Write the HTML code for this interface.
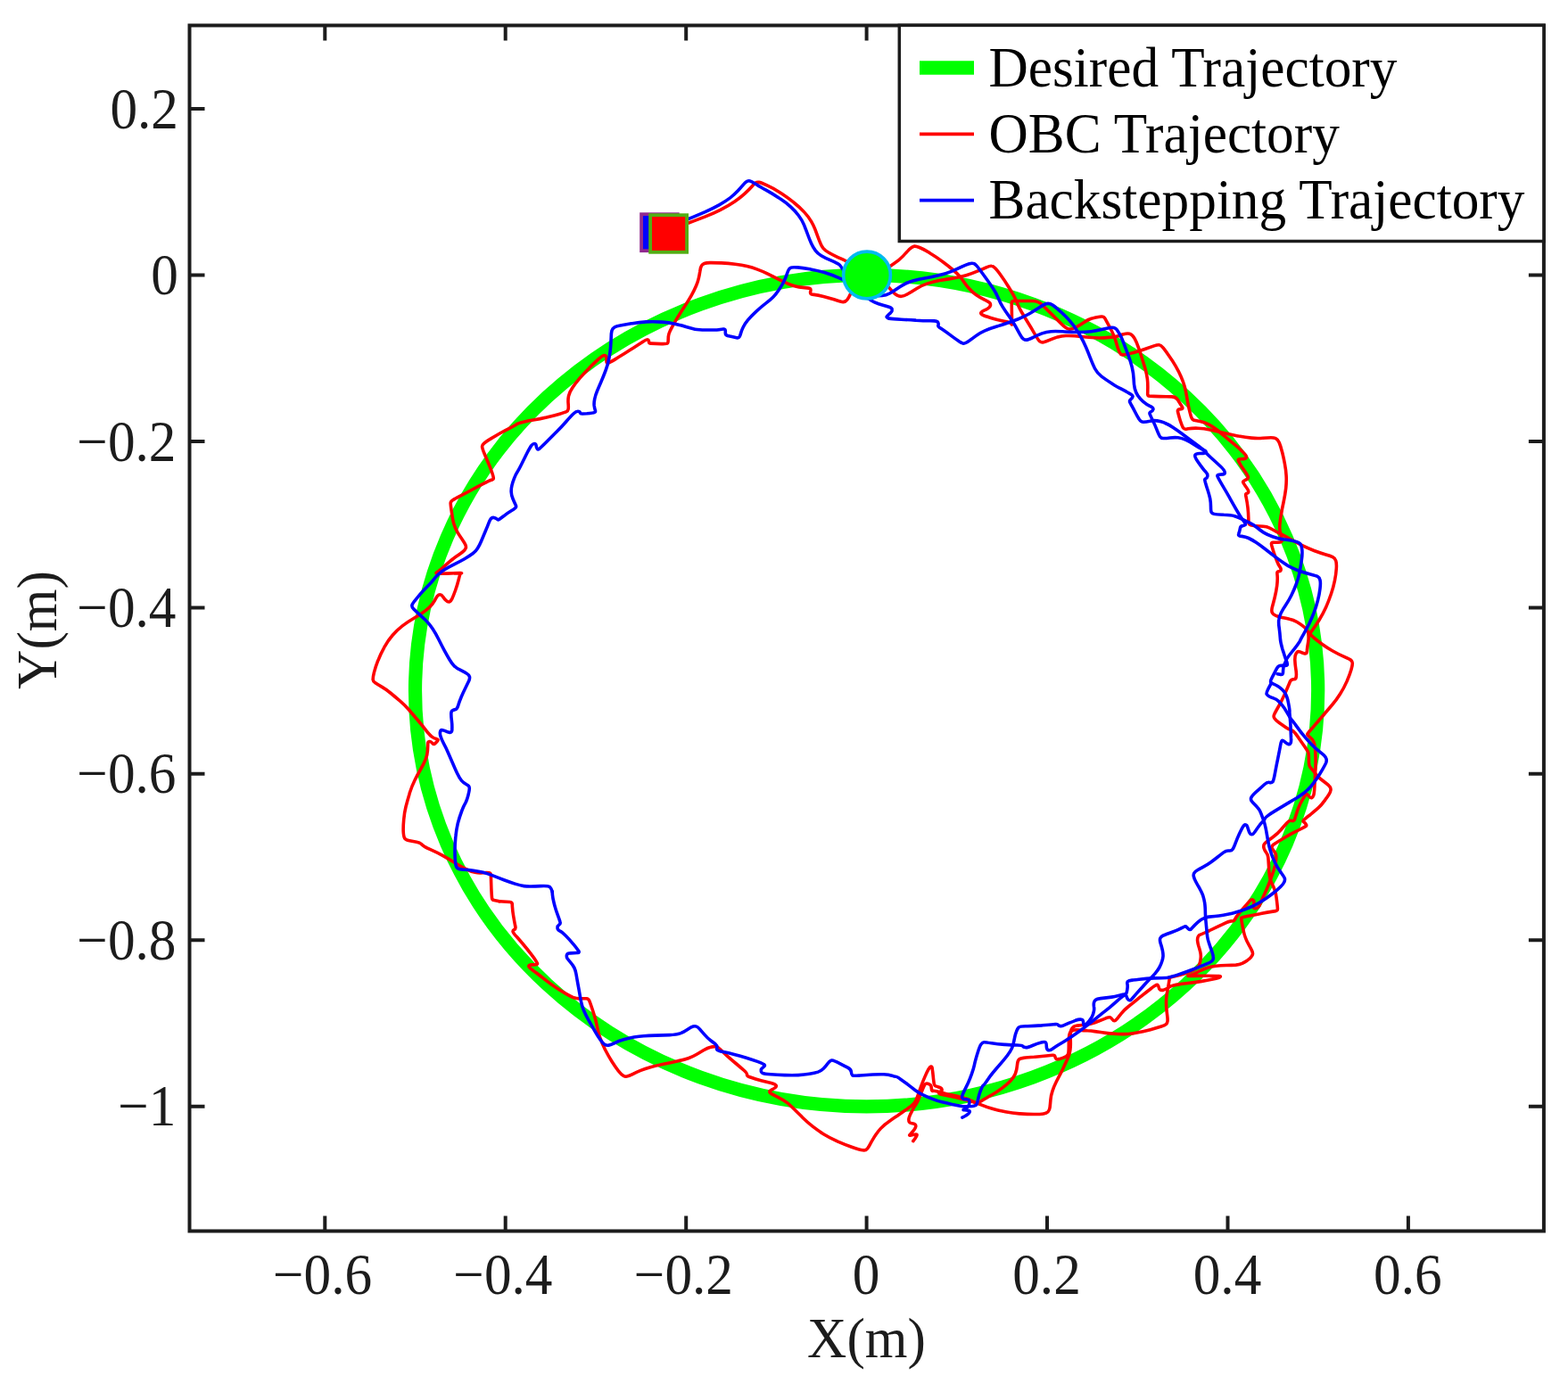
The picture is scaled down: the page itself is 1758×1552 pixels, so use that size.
<!DOCTYPE html>
<html lang="en">
<head>
<meta charset="utf-8">
<title>Trajectory tracking</title>
<style>
html,body{margin:0;padding:0;background:#fff;}
body{width:1758px;height:1552px;overflow:hidden;}
svg{display:block;}
text{font-family:"Liberation Serif","DejaVu Serif",serif;font-size:61.3px;fill:#1c1c1c;}
.lg{fill:#000;}
.ax{stroke:#1c1c1c;stroke-width:4;fill:none;}
.tk{stroke:#1c1c1c;stroke-width:4;fill:none;}
</style>
</head>
<body>
<svg width="1758" height="1552" viewBox="0 0 1758 1552">
<rect x="0" y="0" width="1758" height="1552" fill="#fff"/>
<ellipse cx="971.6" cy="774.6" rx="506.1" ry="466.2" fill="none" stroke="#00ff00" stroke-width="15.2"/>
<path d="M772 250L777.7 247.9Q783.3 245.8 790.8 242.9L792.6 242.1Q800 239.2 807.2 235.6L809.5 234.4Q816.7 230.8 823.3 226.3L823.4 226.2Q830 221.7 835 217.1L835 217.1Q840 212.5 842.9 209.2L842.9 209.2Q845.8 205.8 847.1 205L847.1 205Q848.3 204.2 850.8 204.4L850.8 204.4Q853.3 204.7 860 207.8L860 207.8Q866.7 210.8 873.4 215.2L876.6 217.3Q883.3 221.7 889.5 226.7L890.5 227.5Q896.7 232.5 901.7 237.9L901.7 237.9Q906.7 243.3 909.6 248.3L909.6 248.3Q912.5 253.3 914.6 259.2L914.6 259.2Q916.7 265 918.8 270.4L918.8 270.4Q920.8 275.8 922.9 278.3L922.9 278.3Q925 280.8 929.2 283.3L929.2 283.3Q933.3 285.8 940 288.8L940 288.8Q946.7 291.7 950 293.3L953.3 295" fill="none" stroke="#ff0000" stroke-width="3.6" stroke-linejoin="round" stroke-linecap="round"/>
<path d="M953.3 330L951.7 333.3Q950 336.7 947.9 337.9L947.9 337.9Q945.8 339.2 942.9 338.3L942.9 338.3Q940 337.5 935 335.8L935 335.8Q930 334.2 923.3 332.5L923.3 332.5Q916.7 330.8 912.5 330.4L910.7 330.2Q908.3 330 908.6 327.6L908.9 325.7Q909.2 323.3 906.8 323.1L904.6 322.9Q900 322.5 895.8 321.9L895.8 321.9Q891.7 321.3 887.5 319.8L887.5 319.8Q883.3 318.3 879.2 316.2L879.2 316.2Q875 314.2 870.8 312.1L870.8 312.1Q866.7 310 860.8 307.1L860.8 307.1Q855 304.2 849.2 302.1L849.2 302.1Q843.3 300 837.5 298.6L837.5 298.6Q831.7 297.2 824.2 296.2L824.2 296.2Q816.7 295.3 808.7 294.9L808 294.9Q800 294.5 795.8 294.6L795.8 294.6Q791.7 294.7 789.6 295.5L789.6 295.5Q787.5 296.3 786.4 298.2L786.4 298.2Q785.3 300 784.8 304.2L784.8 304.2Q784.2 308.3 783.3 312.1L783.3 312.1Q782.5 315.8 780.4 320.8L780.4 320.8Q778.3 325.8 775 331.7L775 331.7Q771.7 337.5 767.5 343.8L767.5 343.8Q763.3 350 759.6 356.2L759.6 356.2Q755.8 362.5 753.3 367.1L753.3 367.1Q750.8 371.7 750 374.2L750 374.2Q749.2 376.7 749.2 380.4L749.2 380.4Q749.2 384.2 748.3 385L748.3 385Q747.5 385.8 741.5 385.6L729.9 385.1Q727.5 385 727.5 383.2L727.5 383.2Q727.5 381.3 726.2 380.9L726.2 380.9Q725 380.5 720.8 383.2L720.8 383.2Q716.7 385.8 710 390.2L706.7 392.3Q700 396.7 693.1 400.8L690.2 402.6Q683.3 406.7 681.7 407.1L681.7 407.1Q680 407.5 680 405.1L680 403.8Q680 400 679.2 399.2L679.2 399.2Q678.3 398.3 676.7 398.8L676.7 398.8Q675 399.2 670.8 402.9L670.8 402.9Q666.7 406.7 661 412.3L660.7 412.7Q655 418.3 650 424.2L650 424.2Q645 430 641.7 435L641.7 435Q638.3 440 637.5 444.2L637.5 444.2Q636.7 448.3 637.1 452.5L637.1 452.5Q637.5 456.7 637.1 458.8L637.1 458.8Q636.7 460.8 635 461.7L635 461.7Q633.3 462.5 627.5 464.2L627.5 464.2Q621.7 465.8 613.9 467.8L612.8 468.1Q605 470 599.2 470.8L599.2 470.8Q593.3 471.7 586.7 473.3L586.7 473.3Q580 475 579.2 475.8L579.2 475.8Q578.3 476.7 572.5 479.6L572.5 479.6Q566.7 482.5 560.8 485.8L560.8 485.8Q555 489.2 550 492.1L550 492.1Q545 495 542.7 497.1L542.7 497.1Q540.3 499.2 540.6 501.2L540.6 501.2Q540.8 503.3 542.9 508.3L542.9 508.3Q545 513.3 547.5 519.2L547.5 519.2Q550 525 551.7 530L551.7 530Q553.3 535 553.3 536.2L553.3 536.2Q553.3 537.5 551.1 538.3L550.8 538.3Q548.3 539.2 542.5 542.1L542.5 542.1Q536.7 545 530 548.8L530 548.8Q523.3 552.5 517.5 555.4L517.5 555.4Q511.7 558.3 508.3 560.4L508 560.6Q505 562.5 505.2 564.6L505.2 564.6Q505.3 566.7 506 571.7L506 571.7Q506.7 576.7 507.5 581.7L507.5 581.7Q508.3 586.7 510.4 591.7L510.4 591.7Q512.5 596.7 515.4 600.8L515.4 600.8Q518.3 605 520.7 608.8L520.7 608.8Q523 612.5 522.3 614.6L522.3 614.6Q521.7 616.7 518.3 619.2L518.3 619.2Q515 621.7 510.8 624.6L510.8 624.6Q506.7 627.5 502.5 631.2L502.5 631.2Q498.3 635 495 637.9L495 637.9Q491.7 640.8 489.8 641.9L489.8 641.9Q488 643 490.4 643.1L490.7 643.2Q493.3 643.3 501.3 643.1L515.9 642.6Q518.3 642.5 517.1 642.9L517.1 642.9Q515.8 643.3 514.8 647.6L514.2 650Q512.5 656.7 510.4 662.5L510.4 662.5Q508.3 668.3 506.7 671.7L506.5 671.9Q505 675 503.3 675L503.3 675Q501.7 675 500 673.3L500 673.3Q498.3 671.7 496.7 669.2L496.7 669.2Q495 666.7 493.3 666.7L493.3 666.7Q491.7 666.7 490.4 668.3L490.4 668.3Q489.2 670 487.1 673.8L487.1 673.8Q485 677.5 481.7 680.8L481.7 680.8Q478.3 684.2 473.3 687.5L473.3 687.5Q468.3 690.8 462.5 694.2L462.5 694.2Q456.7 697.5 450.8 702.1L450.8 702.1Q445 706.7 440 712.5L440 712.5Q435 718.3 431.1 725.3L430.6 726.3Q426.7 733.3 423.8 740.8L423.7 740.9Q420.8 748.3 419.4 754.2L419.4 754.2Q418 760 418.2 762.1L418.2 762.1Q418.3 764.2 420.8 765.8L420.8 765.8Q423.3 767.5 428.3 770.4L428.3 770.4Q433.3 773.3 438.3 777.5L438.3 777.5Q443.3 781.7 448.3 785.8L448.3 785.8Q453.3 790 458.3 795.8L458.3 795.8Q463.3 801.7 468.3 807.5L468.3 807.5Q473.3 813.3 477.5 818.8L477.5 818.8Q481.7 824.2 484.2 826.1L484.2 826.1Q486.7 828 489.3 828.6L489.7 828.7Q492 829.2 490.4 831L490.2 831.2Q488.3 833.3 487.1 834.2L487.1 834.2Q485.8 835 484.6 833.2L484.6 833.2Q483.3 831.3 481.5 831.5L481.5 831.5Q479.7 831.7 479.7 834.1L479.7 834.2Q479.7 836.7 479.4 841.7L479.4 841.7Q479.2 846.7 477.1 851.7L477.1 851.7Q475 856.7 471.7 862.5L471.7 862.5Q468.3 868.3 465 875L465 875Q461.7 881.7 459.3 889.3L459 890.4Q456.7 898 455 904.8L455 904.8Q453.3 911.7 452.7 919.2L452.7 919.2Q452 926.7 452.2 932.5L452.2 932.5Q452.5 938.3 453.8 940.2L453.8 940.2Q455 942 459.2 942.8L459.2 942.8Q463.3 943.7 467.1 944.3L467.1 944.3Q470.8 945 472.1 946.2L472.1 946.2Q473.3 947.5 475.8 949.2L475.8 949.2Q478.3 950.8 484.2 953.3L484.2 953.3Q490 955.8 496.7 959.6L496.7 959.6Q503.3 963.3 510 967.5L510 967.5Q516.7 971.7 522.5 974.6L522.5 974.6Q528.3 977.5 532.5 978.3L532.5 978.3Q536.7 979.2 541.7 978.8L541.7 978.8Q546.7 978.3 548.5 978.8L548.5 978.8Q550.3 979.2 550.4 981.6L550.6 988.7Q550.8 996.7 551.2 1002.9L551.5 1006.8Q551.7 1009.2 554 1009.6L560 1010.8" fill="none" stroke="#ff0000" stroke-width="3.6" stroke-linejoin="round" stroke-linecap="round"/>
<path d="M993.3 301.7L1001.7 296.1Q1008.3 291.7 1012.5 287.1L1012.5 287.1Q1016.7 282.5 1019.6 279.6L1019.6 279.6Q1022.5 276.7 1024.6 276.2L1024.6 276.2Q1026.7 275.8 1030.8 277.5L1030.8 277.5Q1035 279.2 1041.8 283.3L1043.2 284.2Q1050 288.3 1056.4 293.1L1056.9 293.5Q1063.3 298.3 1068.3 302.5L1068.3 302.5Q1073.3 306.7 1075.8 309.6L1075.8 309.6Q1078.3 312.5 1080.8 316.2L1080.8 316.2Q1083.3 320 1086.7 323.8L1086.7 323.8Q1090 327.5 1094.2 330.4L1094.2 330.4Q1098.3 333.3 1103.3 335.8L1103.3 335.8Q1108.3 338.3 1109.6 339.6L1109.6 339.6Q1110.8 340.8 1110.4 342.5L1110.4 342.5Q1110 344.2 1108.3 345.4L1108.3 345.4Q1106.7 346.7 1103.8 347.9L1103.8 347.9Q1100.8 349.2 1100 350.4L1100 350.4Q1099.2 351.7 1101.2 352.9L1101.2 352.9Q1103.3 354.2 1110.8 356.4L1110.8 356.4Q1118.3 358.7 1125.8 360.2L1128.9 360.8Q1133.3 361.7 1134 363.3L1134 363.3Q1134.7 365 1134.6 362.6L1134.2 339.9Q1134.2 337.5 1136.6 337.5L1157.8 337.5Q1164.2 337.5 1168.7 342L1169.6 342.9Q1175 348.3 1180 353.3L1180 353.3Q1185 358.3 1190 363.3L1190 363.3Q1195 368.3 1198.3 369L1198.3 369Q1201.7 369.7 1205.8 367.3L1205.8 367.3Q1210 365 1215 361.7L1215 361.7Q1220 358.3 1224.2 357.1L1224.2 357.1Q1228.3 355.8 1232.9 355.2L1234.8 355Q1237.5 354.7 1238.9 357.1L1240.4 359.8Q1243.3 365 1246.7 371.7L1246.7 371.7Q1250 378.3 1251.5 384.2L1251.5 384.2Q1253 390 1254.8 394.2L1255.7 396.1Q1256.7 398.3 1259 397.9L1261.7 397.5Q1266.7 396.7 1272.5 395L1272.5 395Q1278.3 393.3 1284.2 391.2L1284.2 391.2Q1290 389.2 1293.8 387.9L1293.8 387.9Q1297.5 386.7 1299.6 386.8L1299.6 386.8Q1301.7 387 1304.2 390.2L1304.2 390.2Q1306.7 393.3 1310.8 399.2L1310.8 399.2Q1315 405 1318.3 410.8L1318.3 410.8Q1321.7 416.7 1324.2 422.5L1324.2 422.5Q1326.7 428.3 1328.1 433.3L1328.1 433.3Q1329.5 438.3 1330.6 445L1330.6 445Q1331.7 451.7 1332.9 457.5L1332.9 457.5Q1334.2 463.3 1335.4 467.1L1335.4 467.1Q1336.7 470.8 1338.8 471.2L1338.8 471.2Q1340.8 471.7 1345.4 472.5L1345.4 472.5Q1350 473.3 1355 475.8L1355 475.8Q1360 478.3 1365 482.5L1365 482.5Q1370 486.7 1375 490.8L1375 490.8Q1380 495 1385 499.2L1385 499.2Q1390 503.3 1393.3 506.7L1393.3 506.7Q1396.7 510 1397.3 511.7L1397.3 511.7Q1398 513.3 1396.5 514L1396.5 514Q1395 514.7 1391.2 514.8L1389.9 514.9Q1387.5 515 1388.6 517.1L1389.2 518.3Q1390.8 521.7 1393.8 525.8L1393.8 525.8Q1396.7 530 1398.3 532.5L1398.4 532.7Q1400 535 1399.2 536.2L1399.2 536.2Q1398.3 537.5 1395.7 538.6L1395.2 538.8Q1393 539.7 1394 541.5L1394 541.5Q1395 543.3 1397.5 546.7L1397.5 546.7Q1400 550 1399.8 551.5L1399.8 551.5Q1399.7 553 1398 553.3L1398 553.3Q1396.3 553.7 1396.8 556L1397.3 558.5Q1398.3 563.3 1399 569.2L1399 569.2Q1399.7 575 1399.8 581.5L1399.9 585.6Q1400 588 1402.3 588.7L1403.3 589Q1406.7 590 1411.7 590L1411.7 590Q1416.7 590 1420 590.8L1420 590.8Q1423.3 591.7 1427.5 594.2L1427.5 594.2Q1431.7 596.7 1436.7 599.2L1436.7 599.2Q1441.7 601.7 1447.5 605L1447.5 605Q1453.3 608.3 1460 611.7L1460 611.7Q1466.7 615 1473.3 617.5L1473.3 617.5Q1480 620 1485.8 621.7L1485.8 621.7Q1491.7 623.3 1494.2 624.6L1494.2 624.6Q1496.7 625.8 1497.7 628.8L1497.7 628.8Q1498.7 631.7 1498.3 637.5L1498.3 637.5Q1498 643.3 1496.5 650.8L1496.5 650.8Q1495 658.3 1492.5 665.8L1492.5 665.8Q1490 673.3 1486.8 680.6L1486.6 681Q1483.3 688.3 1479.2 695L1479.2 695Q1475 701.7 1471.7 706.2L1469.7 708.9Q1468.3 710.8 1470.1 712.4L1472.5 714.6Q1476.7 718.3 1482.5 722.5L1482.5 722.5Q1488.3 726.7 1494.2 730L1494.2 730Q1500 733.3 1505.8 735.8L1505.8 735.8Q1511.7 738.3 1513.8 739.6L1513.8 739.6Q1515.8 740.8 1516.2 742.9L1516.2 742.9Q1516.7 745 1515 750.8L1515 750.8Q1513.3 756.7 1510.1 764L1509.9 764.4Q1506.7 771.7 1502.5 778.3L1502.5 778.3Q1498.3 785 1493.3 790.8L1493.3 790.8Q1488.3 796.7 1483.3 802.5L1483.3 802.5Q1478.3 808.3 1474.2 813.2L1474.2 813.2Q1470 818 1468.2 820L1468.2 820Q1466.4 822 1466 822.8L1466 822.8Q1465.6 823.6 1466.4 824.7L1466.4 824.7Q1467.3 825.7 1469.4 827.4L1469.4 827.4Q1471.4 829 1472.7 831.5L1472.7 831.5Q1473.9 834 1474.3 837.8L1474.3 837.8Q1474.8 841.5 1475 849L1475 849Q1475.2 856.4 1474.8 864.4L1474.7 865.1Q1474.3 873.1 1473.9 881L1473.9 881.7Q1473.5 889.7 1472.8 891.7L1472.8 891.7Q1472.1 893.8 1470.9 894.4L1470.9 894.4Q1469.8 895.1 1468.5 894L1468.5 894Q1467.3 893 1466 891.1L1466 891.1Q1464.8 889.3 1463.5 891.3L1463.1 892Q1461.5 894.7 1459.8 897.6L1459.8 897.6Q1458.1 900.5 1456.5 904.2L1456.5 904.2Q1454.8 907.9 1453.2 913.4L1453.2 913.4Q1451.5 918.9 1451.4 919.2L1451.4 919.2Q1451.3 919.5 1450.4 920.1L1450.4 920.1Q1449.6 920.8 1447.5 920.3L1447.5 920.3Q1445.4 919.9 1442.8 922.9L1442.5 923.3Q1439.6 926.6 1435.9 930.7L1435.9 930.7Q1432.2 934.9 1428.4 937.8L1428.4 937.8Q1424.7 940.7 1421.4 943L1421.4 943Q1418 945.3 1417.2 947.1L1417.2 947.1Q1416.4 949 1417.2 951.5L1417.2 951.5Q1418 954 1419.7 956.1L1419.7 956.1Q1421.4 958.1 1421.8 961.5L1421.8 961.5Q1422.2 964.8 1422.4 969.8L1422.4 969.8Q1422.6 974.8 1423 978.9L1423 978.9Q1423.4 983.1 1424.1 985.5L1424.1 985.5Q1424.7 988 1426.3 991.4L1426.3 991.4Q1428 994.7 1429.3 998.4L1429.3 998.4Q1430.5 1002.2 1431.1 1006.7L1431.1 1006.7Q1431.7 1011.3 1432.2 1016.3L1432.4 1018.9Q1432.6 1021.3 1430.2 1021.6L1427 1022.1Q1421.4 1022.9 1413.5 1024.5L1412.6 1024.7Q1404.8 1026.2 1398.1 1027.6L1393.8 1028.4Q1391.5 1028.9 1391.6 1029.9L1391.6 1029.9Q1391.7 1030.8 1392.5 1035.4L1392.5 1035.4Q1393.3 1040 1394.2 1044L1394.2 1044Q1395 1048 1396.5 1051.8L1396.5 1051.8Q1398 1055.7 1400.1 1059.4L1400.1 1059.4Q1402.2 1063.2 1403.4 1065.6L1403.4 1065.6Q1404.7 1068.1 1404.5 1069.8L1404.5 1069.8Q1404.3 1071.5 1402.8 1073.1L1402.8 1073.1Q1401.4 1074.8 1398.5 1076.9L1398.5 1076.9Q1395.5 1078.9 1392.6 1080.4L1392.6 1080.4Q1389.7 1081.8 1385.6 1082.1L1385.6 1082.1Q1381.4 1082.3 1374.8 1082.5L1374.8 1082.5Q1368.1 1082.7 1363.2 1083.3L1363.2 1083.3Q1358.2 1083.9 1354 1085.2L1354 1085.2Q1349.9 1086.4 1346.5 1088.1L1346.5 1088.1Q1343.2 1089.7 1340.3 1091.4L1340.3 1091.4Q1337.4 1093.1 1334.1 1093.8L1333.1 1094Q1330.8 1094.6 1333.2 1094.5L1337 1094.4Q1343.2 1094.3 1351.2 1094.3L1351.8 1094.3Q1359.8 1094.3 1364.4 1094.5L1366.6 1094.6Q1369 1094.7 1368.1 1095.5L1368.1 1095.5Q1367.3 1096.4 1363.6 1097.2L1363.6 1097.2Q1359.8 1098 1353.6 1099.3L1353.6 1099.3Q1347.4 1100.5 1341.1 1101.4L1341.1 1101.4Q1334.9 1102.2 1329.9 1102.8L1329.9 1102.8Q1325 1103.4 1321.6 1103.9L1321.6 1103.9Q1318.3 1104.3 1315.8 1104.9L1315.8 1104.9Q1313.3 1105.5 1311.7 1106.3L1311.7 1106.3Q1310 1107.2 1309 1108.1L1309 1108.1Q1307.9 1109 1305 1109.9L1305 1109.9Q1302.1 1110.7 1300.9 1110.1L1300.9 1110.1Q1299.6 1109.5 1299.2 1107.2L1299.2 1107.2Q1298.8 1104.9 1298 1104.5L1298 1104.5Q1297.1 1104.1 1295.1 1105.3L1295.1 1105.3Q1293 1106.5 1289.3 1109.5L1289.3 1109.5Q1285.5 1112.4 1281.4 1115.7L1281.4 1115.7Q1277.2 1119 1273.1 1122.3L1273.1 1122.3Q1268.9 1125.6 1264.8 1129L1264.8 1129Q1260.6 1132.3 1257.3 1136.4L1257.3 1136.4Q1254 1140.6 1252.3 1142.7L1252.3 1142.7Q1250.6 1144.8 1249.4 1144.8L1249.4 1144.8Q1248.1 1144.8 1246.9 1142.9L1246.9 1142.9Q1245.6 1141 1244.4 1140.8L1244.4 1140.8Q1243.2 1140.6 1239.8 1141.8L1239.8 1141.8Q1236.5 1143.1 1231.9 1145L1231.9 1145Q1227.4 1146.8 1223.2 1147.9L1223.2 1147.9Q1219.1 1148.9 1214.9 1149.3L1214.9 1149.3Q1210.8 1149.7 1207.9 1150.1L1207.9 1150.1Q1205 1150.6 1203.7 1151.4L1203.7 1151.4Q1202.5 1152.2 1201.4 1153.9L1201.4 1153.9Q1200.4 1155.5 1200.2 1158.5L1200.2 1158.5Q1200 1161.4 1200.2 1165.5L1200.2 1165.5Q1200.4 1169.7 1200.2 1173.8L1200.2 1173.8Q1200 1178 1199.1 1181.3L1199.1 1181.3Q1198.3 1184.6 1196.6 1187.9L1196.6 1187.9Q1195 1191.3 1193.3 1195.1L1193.3 1195.1Q1191.7 1198.9 1189.2 1203.6L1189.2 1203.6Q1186.7 1208.3 1184.2 1213.3L1184.2 1213.3Q1181.7 1218.3 1180 1223.3L1180 1223.3Q1178.3 1228.3 1177.9 1233.3L1177.9 1233.3Q1177.5 1238.3 1177.1 1241.7L1177.1 1241.7Q1176.7 1245 1175 1246.7L1175 1246.7Q1173.3 1248.3 1170 1248.9L1170 1248.9Q1166.7 1249.5 1159.2 1249.5L1159.2 1249.5Q1151.7 1249.5 1143.7 1248.9L1143 1248.9Q1135 1248.3 1127.2 1246.8L1126.2 1246.6Q1118.3 1245 1112.5 1243.3L1112.5 1243.3Q1106.7 1241.7 1099.9 1238.9L1099.9 1238.9Q1093.2 1236.1 1088.9 1234.9L1088.9 1234.9Q1084.6 1233.8 1078.9 1232.4L1078.9 1232.4Q1073.3 1231 1067.6 1229.8L1067.6 1229.8Q1061.9 1228.7 1059 1228.1L1059 1228.1Q1056.2 1227.5 1054.2 1227L1054.2 1227Q1052.2 1226.4 1053.1 1225.3L1053.1 1225.3Q1053.9 1224.1 1055.1 1223.8L1055.1 1223.8Q1056.2 1223.6 1056.1 1222.1L1056.1 1222.1Q1055.9 1220.7 1054.9 1220.1L1054.9 1220.1Q1053.9 1219.6 1052.2 1219L1052.2 1219Q1050.5 1218.4 1048.9 1217.9L1048.9 1217.9Q1047.4 1217.3 1047 1213.9L1047 1213.6Q1046.5 1209.9 1046.1 1205.6L1046.1 1205.6Q1045.7 1201.4 1045.2 1198.5L1045.2 1198.1Q1044.8 1195.7 1043.7 1196L1043.7 1196Q1042.5 1196.3 1040.8 1199.4L1040.8 1199.4Q1039.1 1202.5 1036.9 1207.6L1036.9 1207.6Q1034.6 1212.8 1032.6 1218.4L1032.6 1218.4Q1030.6 1224.1 1028.6 1229.8L1028.6 1229.8Q1026.6 1235.5 1024.3 1237.8L1024.3 1237.8Q1022.1 1240.1 1019.2 1242L1019.2 1242Q1016.4 1244 1013.5 1246L1013.5 1246Q1010.7 1248 1007.8 1250L1007.8 1250Q1005 1252 998.3 1256.4L998.3 1256.4Q991.7 1260.8 987.5 1265.4L987.5 1265.4Q983.3 1270 980 1275.4L980 1275.4Q976.7 1280.8 974.6 1284.8L974.6 1284.8Q972.5 1288.7 970.8 1289.5L970.8 1289.5Q969.2 1290.3 965.4 1289.5L965.4 1289.5Q961.7 1288.7 954.2 1286L954.2 1286Q946.7 1283.3 939.4 1280.1L937.3 1279.1Q930 1275.8 923.3 1271.7L923.3 1271.7Q916.7 1267.5 910.8 1262.9L910.8 1262.9Q905 1258.3 899.3 1252.7L899 1252.3Q893.3 1246.7 888.3 1241.7L888.3 1241.7Q883.3 1236.7 878.3 1233.8L878.3 1233.8Q873.3 1230.8 868.3 1228.3L868.3 1228.3Q863.3 1225.8 862.9 1224.6L862.9 1224.6Q862.5 1223.3 864.6 1222.3L865 1222.1Q867.5 1220.8 869.2 1219.6L869.2 1219.6Q870.8 1218.3 870 1217.1L870 1217.1Q869.2 1215.8 864.6 1214.6L864.6 1214.6Q860 1213.3 853.3 1211.7L853.3 1211.7Q846.7 1210 842.1 1208.3L839.8 1207.5Q837.5 1206.7 837.5 1205L837.5 1205Q837.5 1203.3 833.8 1200L833.8 1200Q830 1196.7 825 1192.5L825 1192.5Q820 1188.3 815 1183.8L815 1183.8Q810 1179.2 807.5 1176.7L807.5 1176.7Q805 1174.2 802.5 1173.8L802.5 1173.8Q800 1173.3 796.7 1174.2L796.7 1174.2Q793.3 1175 789.2 1177.5L789.2 1177.5Q785 1180 780.8 1182.5L780.8 1182.5Q776.7 1185 771.7 1186.7L771.7 1186.7Q766.7 1188.3 759.2 1190L759.2 1190Q751.7 1191.7 743.8 1193.2L742.8 1193.4Q735 1195 729.2 1196.7L729.2 1196.7Q723.3 1198.3 718.3 1200.4L718.3 1200.4Q713.3 1202.5 709.2 1204.6L709.2 1204.6Q705 1206.7 702.9 1207.1L702.9 1207.1Q700.8 1207.5 698.8 1206.2L698.8 1206.2Q696.7 1205 693.3 1200.8L693.3 1200.8Q690 1196.7 685.8 1190L685.8 1190Q681.7 1183.3 678.3 1176.7L678.3 1176.7Q675 1170 672.9 1164.2L672.9 1164.2Q670.8 1158.3 669.6 1151.7L669.6 1151.7Q668.3 1145 666.2 1138.3L666.2 1138.3Q664.2 1131.7 662.1 1125.8L661 1122.8Q660 1120 657.5 1119.8L657.5 1119.8Q655 1119.7 650.8 1119.8L650.8 1119.8Q646.7 1120 643.3 1118.8L643.3 1118.8Q640 1117.5 635 1114.6L635 1114.6Q630 1111.7 624.2 1107.9L624.2 1107.9Q618.3 1104.2 612.5 1099.6L612.5 1099.6Q606.7 1095 601.7 1091.2L601.7 1091.2Q596.7 1087.5 594.6 1085.8L594.4 1085.7Q592.5 1084.2 592.9 1083.1L592.9 1083.1Q593.3 1082 596.2 1081.9L600.9 1081.7Q603.3 1081.7 602.1 1079.6L601.7 1078.8Q600 1075.8 595.8 1070.4L595.8 1070.4Q591.7 1065 587.5 1060L587.5 1060Q583.3 1055 579.6 1050.8L579.6 1050.8Q575.8 1046.7 575.2 1045L575.2 1045Q574.7 1043.3 576.5 1042.5L576.5 1042.5Q578.3 1041.7 577.9 1039.3L577.5 1037.5Q576.7 1033.3 575.7 1027.5L575.7 1027.5Q574.7 1021.7 574.4 1016.7L574.3 1014.1Q574.2 1011.7 571.8 1011.5L560 1010.8" fill="none" stroke="#ff0000" stroke-width="3.6" stroke-linejoin="round" stroke-linecap="round"/>
<path d="M993.3 318.3L995.4 320.8Q997.5 323.3 1000.4 326.7L1000.4 326.7Q1003.3 330 1005.8 331.2L1005.8 331.2Q1008.3 332.5 1010.8 332.3L1010.8 332.3Q1013.3 332.2 1017.5 329.8L1017.5 329.8Q1021.7 327.5 1027.5 323.8L1027.5 323.8Q1033.3 320 1040 317.9L1040 317.9Q1046.7 315.8 1053.3 314.6L1053.3 314.6Q1060 313.3 1067.9 312.1L1068.8 312Q1076.7 310.8 1083.3 308.8L1083.3 308.8Q1090 306.7 1095.8 304.2L1095.8 304.2Q1101.7 301.7 1105.8 299.8L1105.8 299.8Q1110 298 1111.7 298.2L1111.7 298.2Q1113.3 298.3 1115.8 300.8L1115.8 300.8Q1118.3 303.3 1122.5 309.2L1122.5 309.2Q1126.7 315 1130.8 321.7L1130.8 321.7Q1135 328.3 1137.5 333.3L1137.5 333.3Q1140 338.3 1141.2 341.7L1141.2 341.7Q1142.5 345 1145.4 350L1145.4 350Q1148.3 355 1152.5 361.7L1152.5 361.7Q1156.7 368.3 1160.4 375L1160.4 375Q1164.2 381.7 1165.8 382.9L1165.8 382.9Q1167.5 384.2 1170 383.8L1170 383.8Q1172.5 383.3 1177.1 381.2L1177.1 381.2Q1181.7 379.2 1185.8 377.9L1185.8 377.9Q1190 376.7 1195 376.5L1195 376.5Q1200 376.3 1205 376.7L1205 376.7Q1210 377 1215 377.7L1215 377.7Q1220 378.3 1227.5 378.8L1227.5 378.8Q1235 379.2 1243 378.4L1245 378.2Q1253 377.5 1255.7 376.1L1255.7 376.1Q1258.3 374.7 1262.1 374.2L1262.1 374.2Q1265.8 373.7 1267.9 374.8L1267.9 374.8Q1270 375.8 1272.1 379.6L1272.1 379.6Q1274.2 383.3 1276.2 389.2L1276.2 389.2Q1278.3 395 1280.4 401.7L1280.4 401.7Q1282.5 408.3 1284.2 414.2L1284.2 414.2Q1285.8 420 1286.4 425L1286.4 425Q1287 430 1286.8 437.1L1286.7 441.8Q1286.7 444.2 1289.1 444.3L1293.3 444.4Q1300 444.7 1308 444.8L1313.8 444.9Q1318.3 445 1320.4 448.3L1320.4 448.3Q1322.5 451.7 1324.6 455L1325.4 456.3Q1326.7 458.3 1324.3 458.6L1322.4 458.9Q1320 459.2 1320.5 461.5L1320.8 462.9Q1321.7 466.7 1323.3 471.7L1323.3 471.7Q1325 476.7 1326.2 479.2L1326.4 479.5Q1327.5 481.7 1329.9 481.2L1332.1 480.8Q1336.7 480 1343.3 480.2L1343.3 480.2Q1350 480.5 1356.7 481.9L1356.7 481.9Q1363.3 483.3 1371.1 485.3L1372.2 485.6Q1380 487.5 1387.9 488.9L1388.8 489.1Q1396.7 490.5 1403.3 491.1L1403.3 491.1Q1410 491.7 1415.8 491.2L1415.8 491.2Q1421.7 490.8 1425 490.8L1425 490.8Q1428.3 490.8 1430.4 491.7L1430.4 491.7Q1432.5 492.5 1434.2 496.2L1434.2 496.2Q1435.8 500 1437.5 506.7L1437.5 506.7Q1439.2 513.3 1440.4 520L1440.4 520Q1441.7 526.7 1442.1 533.3L1442.1 533.3Q1442.5 540 1441.7 547.5L1441.7 547.5Q1440.8 555 1439.2 562.5L1439.2 562.5Q1437.5 570 1436.3 577.9L1435.9 580.1Q1434.7 588 1434.7 591.5L1434.7 591.5Q1434.7 595 1435.7 598.3L1435.7 598.3Q1436.7 601.7 1437.1 604.6L1437.2 605.1Q1437.5 607.5 1435.4 607.9L1435.4 607.9Q1433.3 608.3 1429.2 608.3L1427.4 608.3Q1425 608.3 1425.6 610.7L1425.8 611.7Q1426.7 615 1428.3 620L1428.3 620Q1430 625 1431.7 629.2L1431.7 629.2Q1433.3 633.3 1434.8 635.4L1434.8 635.4Q1436.3 637.5 1436.1 639.2L1436.1 639.2Q1435.8 640.8 1433.8 640.8L1433.8 640.8Q1431.7 640.8 1431.9 643.2L1432.1 645.4Q1432.5 650 1431.7 656.7L1431.7 656.7Q1430.8 663.3 1429.2 670L1429.2 670Q1427.5 676.7 1426.4 680.8L1426.4 680.8Q1425.3 685 1426.4 687.1L1426.4 687.1Q1427.5 689.2 1430.4 690.4L1430.4 690.4Q1433.3 691.7 1437.5 692.5L1437.5 692.5Q1441.7 693.3 1445.8 694.2L1445.8 694.2Q1450 695 1454.2 697.5L1454.2 697.5Q1458.3 700 1462.5 703.3L1462.5 703.3Q1466.7 706.7 1467.1 710.8L1467.1 710.8Q1467.5 715 1466.7 720L1466.7 720Q1465.8 725 1465.4 729.2L1465.2 730.9Q1465 733.3 1462.9 732.9L1462.9 732.9Q1460.8 732.5 1457.9 731.2L1457.2 730.9Q1455 730 1453.7 732L1453.3 732.5Q1451.7 735 1451.8 740L1451.8 740Q1452 745 1452.8 750L1452.8 750Q1453.7 755 1453.3 758.3L1453.2 759.3Q1453 761.7 1450.6 761.7L1450.2 761.7Q1447.5 761.7 1446.4 764.3L1445.4 766.7Q1443.3 771.7 1440.1 779L1439.9 779.4Q1436.7 786.7 1433.3 792.5L1433.3 792.5Q1430 798.3 1428.8 800.8L1428.8 800.8Q1427.5 803.3 1428.8 805.4L1428.8 805.4Q1430 807.5 1434.2 810.4L1434.2 810.4Q1438.3 813.3 1441.7 815.7L1441.7 815.7Q1445 818 1447.4 818.5L1447.4 818.5Q1449.8 819.1 1452.3 822.4L1452.3 822.4Q1454.8 825.7 1457.7 829.9L1457.7 829.9Q1460.6 834 1463.1 837.8L1463.1 837.8Q1465.6 841.5 1466.5 843.2L1466.5 843.2Q1467.4 844.8 1467.4 851.9L1467.4 852.3Q1467.4 858.9 1469 860.6L1469 860.6Q1470.6 862.3 1474.3 866.8L1474.3 866.8Q1478.1 871.4 1480.6 873.5L1480.6 873.5Q1483.1 875.5 1486.4 878L1486.4 878Q1489.7 880.5 1490.9 882.2L1490.9 882.2Q1492.2 883.9 1492 885.9L1492 885.9Q1491.8 888 1489.9 890.9L1489.9 890.9Q1488 893.8 1484.7 898.4L1484.7 898.4Q1481.4 903 1478.1 905.9L1478.1 905.9Q1474.8 908.8 1471.4 911.7L1471.4 911.7Q1468.1 914.6 1467.6 914.8L1467.6 914.8Q1467 915 1463.7 917.9L1462.2 919.2Q1460.4 920.8 1461.6 921.6L1461.6 921.6Q1462.9 922.4 1464.1 924.1L1464.1 924.1Q1465.4 925.7 1464.1 926.6L1464.1 926.6Q1462.9 927.4 1458.7 929.5L1458.7 929.5Q1454.6 931.6 1450.4 933.6L1450.4 933.6Q1446.3 935.7 1442.1 938.2L1442.1 938.2Q1438 940.7 1433.8 943.2L1433.8 943.2Q1429.7 945.7 1427.6 947.3L1427.4 947.5Q1425.5 949 1426.3 951.1L1426.3 951.1Q1427.2 953.2 1428.8 955.2L1428.8 955.2Q1430.5 957.3 1430.7 959.8L1430.7 959.8Q1430.9 962.3 1430.3 966.4L1430.3 966.4Q1429.7 970.6 1428.4 974.8L1428.4 974.8Q1427.2 978.9 1425.5 983.5L1425.5 983.5Q1423.9 988 1422.2 992.2L1422.2 992.2Q1420.5 996.3 1418.9 1000.1L1418.9 1000.1Q1417.2 1003.8 1415.5 1007.6L1415.5 1007.6Q1413.9 1011.3 1412.6 1014.2L1412.6 1014.2Q1411.4 1017.1 1410.1 1017.9L1410.1 1017.9Q1408.9 1018.8 1407.2 1018.6L1407.2 1018.6Q1405.6 1018.4 1405.2 1017.3L1405.2 1017.3Q1404.8 1016.3 1405.6 1013.8L1405.6 1013.8Q1406.4 1011.3 1405.6 1010L1405.6 1010Q1404.8 1008.8 1403.5 1008.8L1403.5 1008.8Q1402.3 1008.8 1400.2 1011.3L1400.2 1011.3Q1398.1 1013.8 1395.6 1016.7L1395.6 1016.7Q1393.1 1019.6 1390.6 1022.5L1390.6 1022.5Q1388.1 1025.4 1386.9 1027.2L1386.9 1027.2Q1385.6 1028.9 1384.5 1031.1L1384.4 1031.2Q1383.3 1033.3 1381.2 1032.9L1381.2 1032.9Q1379.2 1032.5 1372.2 1035.8L1370.6 1036.6Q1363.3 1040 1356.1 1043.5L1353.9 1044.5Q1346.7 1048 1345.4 1048.3L1345.4 1048.3Q1344.1 1048.6 1343.2 1050.5L1343.2 1050.5Q1342.4 1052.4 1342.6 1054.9L1342.6 1054.9Q1342.8 1057.3 1343.8 1060.7L1343.8 1060.7Q1344.9 1064 1345.7 1067.3L1345.7 1067.3Q1346.5 1070.6 1346.3 1073.5L1346.3 1073.5Q1346.1 1076.4 1345.5 1078.9L1345.5 1078.9Q1344.9 1081.4 1344.1 1083.1L1344.1 1083.1Q1343.2 1084.8 1339.1 1087.2L1339.1 1087.2Q1334.9 1089.7 1330.8 1091L1330.8 1091Q1326.6 1092.2 1322.5 1093.5L1322.5 1093.5Q1318.3 1094.7 1314.2 1095.5L1312.4 1095.9Q1310 1096.4 1310.6 1096.5L1310.6 1096.5Q1311.3 1096.6 1311 1099L1310.8 1099.9Q1310.4 1103.2 1309.6 1107.4L1309.6 1107.4Q1308.8 1111.5 1308.1 1115.7L1308.1 1115.7Q1307.5 1119.8 1307.5 1124L1307.5 1124Q1307.5 1128.1 1307.9 1132.3L1307.9 1132.3Q1308.4 1136.4 1308.8 1139.8L1308.8 1139.8Q1309.2 1143.1 1309 1145.2L1309 1145.2Q1308.8 1147.2 1307.5 1148.5L1307.5 1148.5Q1306.3 1149.7 1302.1 1151L1302.1 1151Q1298 1152.2 1293.8 1153.5L1293.8 1153.5Q1289.7 1154.7 1285.5 1155.8L1285.5 1155.8Q1281.4 1156.8 1277.2 1157.6L1277.2 1157.6Q1273.1 1158.5 1268.9 1159L1268.9 1159Q1264.8 1159.5 1260.6 1159.6L1260.6 1159.6Q1256.4 1159.7 1252.3 1159.5L1252.3 1159.5Q1248.1 1159.3 1244 1158.9L1244 1158.9Q1239.8 1158.5 1235.7 1157.8L1235.7 1157.8Q1231.5 1157.2 1227.4 1156.6L1227.4 1156.6Q1223.2 1156 1219.1 1155.8L1219.1 1155.8Q1214.9 1155.5 1210.8 1155.1L1210.8 1155.1Q1206.6 1154.7 1204.5 1155.1L1204.5 1155.1Q1202.5 1155.5 1200.8 1156.8L1200.8 1156.8Q1199.1 1158 1198.7 1161.8L1198.7 1161.8Q1198.3 1165.5 1198.3 1171.7L1198.3 1171.7Q1198.3 1178 1197.9 1180.7L1197.9 1180.7Q1197.5 1183.3 1195.4 1184.6L1195.4 1184.6Q1193.3 1185.8 1189.2 1187.1L1188.6 1187.3Q1185 1188.3 1184.2 1187.5L1184.2 1187.5Q1183.3 1186.7 1182.9 1184.8L1182.9 1184.8Q1182.5 1183 1180.1 1183.3L1175.4 1183.8Q1168.3 1184.7 1160.4 1185.2L1159.6 1185.3Q1151.7 1185.8 1147.5 1186.4L1147.5 1186.4Q1143.3 1187 1142.1 1188.5L1142.1 1188.5Q1140.8 1190 1140.4 1195L1140.4 1195Q1140 1200 1138.3 1204.2L1138.3 1204.2Q1136.7 1208.3 1132.5 1212.5L1132.5 1212.5Q1128.3 1216.7 1123.3 1220.4L1123.3 1220.4Q1118.3 1224.2 1112.5 1227.5L1112.5 1227.5Q1106.7 1230.8 1104.2 1232.3L1104.2 1232.3Q1101.7 1233.8 1098.9 1235.5L1098.9 1235.5Q1096 1237.2 1093.2 1236.1L1093.2 1236.1Q1090.3 1234.9 1087.5 1233.7L1087.5 1233.7Q1084.6 1232.4 1078.9 1230.8L1078.9 1230.8Q1073.3 1229.2 1067.6 1228.1L1067.6 1228.1Q1061.9 1227 1057.6 1225.8L1057.6 1225.8Q1053.4 1224.7 1050.2 1223.8L1050.2 1223.8Q1047.1 1223 1046 1223.4L1046 1223.4Q1044.8 1223.8 1044.5 1221.7L1044.5 1221.7Q1044.2 1219.6 1044 1218.2L1044 1218.2Q1043.7 1216.7 1042 1215.9L1042 1215.9Q1040.3 1215 1038.8 1215L1038.8 1215Q1037.4 1215 1036.6 1216.7L1036.6 1216.7Q1035.7 1218.4 1034 1222.7L1034 1222.7Q1032.3 1227 1030.6 1231.2L1030.6 1231.2Q1028.9 1235.5 1026.9 1238.4L1026.9 1238.4Q1024.9 1241.2 1023.5 1244L1023.5 1244Q1022.1 1246.9 1020.6 1249.7L1020.6 1249.7Q1019.2 1252.6 1018.9 1254.8L1018.9 1254.8Q1018.7 1257.1 1019.5 1258.3L1019.5 1258.3Q1020.4 1259.4 1022.6 1259.7L1022.6 1259.7Q1024.9 1260 1025.9 1260.8L1025.9 1260.8Q1026.9 1261.7 1026.8 1263.1L1026.8 1263.1Q1026.6 1264.5 1025.2 1266.5L1025.2 1266.5Q1023.8 1268.5 1022.1 1270.2L1022.1 1270.2Q1020.4 1271.9 1019.8 1272.8L1019.8 1272.8Q1019.2 1273.6 1021.5 1273L1021.5 1273Q1023.8 1272.5 1026 1272.2L1026 1272.2Q1028.3 1271.9 1028 1273L1028 1273Q1027.8 1274.2 1026.3 1276.2L1026.3 1276.2Q1024.9 1278.3 1024.3 1278.9L1023.8 1279.6" fill="none" stroke="#ff0000" stroke-width="3.6" stroke-linejoin="round" stroke-linecap="round"/>
<path d="M766.7 247.5L775.9 243.8Q783.3 240.8 790.6 237.6L792.7 236.6Q800 233.3 806.7 229.6L806.7 229.6Q813.3 225.8 818.3 222.1L818.3 222.1Q823.3 218.3 827.5 213.8L827.5 213.8Q831.7 209.2 833.8 206.7L833.8 206.7Q835.8 204.2 837.5 203.3L837.5 203.3Q839.2 202.5 840.8 202.9L840.8 202.9Q842.5 203.3 846.2 205.8L846.2 205.8Q850 208.3 857 212.2L859.7 213.6Q866.7 217.5 873.3 221.9L875 223.1Q881.7 227.5 886.7 232.1L886.7 232.1Q891.7 236.7 895.4 241.7L895.4 241.7Q899.2 246.7 901.2 251.7L901.2 251.7Q903.3 256.7 905.4 262.5L905.4 262.5Q907.5 268.3 909.6 272.9L909.6 272.9Q911.7 277.5 914.2 280.8L914.2 280.8Q916.7 284.2 920.8 286.7L920.8 286.7Q925 289.2 930.8 291.7L930.8 291.7Q936.7 294.2 939.6 295.8L939.6 295.8Q942.5 297.5 943.3 299.6L943.3 299.6Q944.2 301.7 947.1 304.2L950 306.7" fill="none" stroke="#0000ff" stroke-width="3.6" stroke-linejoin="round" stroke-linecap="round"/>
<path d="M948.3 315L940.6 311.6Q933.3 308.3 925.7 306L924.3 305.6Q916.7 303.3 908.8 301.9L907.9 301.8Q900 300.3 894.2 299.9L894.2 299.9Q888.3 299.5 886.7 300.2L886.7 300.2Q885 300.8 884.2 302.5L884.2 302.5Q883.3 304.2 882.1 307.9L882.1 307.9Q880.8 311.7 878.8 315.8L878.8 315.8Q876.7 320 873.3 325L873.3 325Q870 330 866.7 333.3L866.7 333.3Q863.3 336.7 858.3 340.4L858.3 340.4Q853.3 344.2 847.5 349.6L847.5 349.6Q841.7 355 838.3 359.2L838.3 359.2Q835 363.3 833.3 366.7L833.3 366.7Q831.7 370 830.8 372.9L830.8 372.9Q830 375.8 829.2 377.5L829.2 377.5Q828.3 379.2 826 378.8L825.8 378.8Q823.3 378.3 818.3 377.1L815.7 376.4Q813.3 375.8 813.3 373.4L813.3 371.6Q813.3 369.2 811.7 369L811.7 369Q810 368.8 807.5 369.4L807.5 369.4Q805 370 797 370L791.3 370Q783.3 370 779.2 369.2L779.2 369.2Q775 368.3 769.2 366.5L769.2 366.5Q763.3 364.7 756.7 363.2L756.7 363.2Q750 361.7 742 361.1L741.3 361.1Q733.3 360.5 725.3 360.9L724.7 360.9Q716.7 361.3 708.8 362.7L707.9 362.8Q700 364.2 695.4 365L695.4 365Q690.8 365.8 688.8 367.1L688.8 367.1Q686.7 368.3 686 370.8L686 370.8Q685.3 373.3 685.2 378.3L685.2 378.3Q685 383.3 684.6 389.2L684.6 389.2Q684.2 395 682.9 401.7L682.9 401.7Q681.7 408.3 679.2 415L679.2 415Q676.7 421.7 674.2 427.5L674.2 427.5Q671.7 433.3 669.6 438.3L669.6 438.3Q667.5 443.3 666.7 447.5L666.7 447.5Q665.8 451.7 666.2 455L666.2 455Q666.7 458.3 667.3 460L667.3 460Q668 461.7 666.5 462.5L666.5 462.5Q665 463.3 657.9 463.8L653.2 464Q650.8 464.2 650.4 462.8L650.4 462.8Q650 461.3 647.9 461.3L647.9 461.3Q645.8 461.3 642.9 464L642.9 464Q640 466.7 635 472.5L635 472.5Q630 478.3 624.3 484L624 484.3Q618.3 490 613.3 495L613.3 495Q608.3 500 605.8 502.3L605.1 503Q603.3 504.7 602.3 503.2L602.3 503.2Q601.3 501.7 601.1 499.6L601.1 499.6Q600.8 497.5 599.2 497.5L599.2 497.5Q597.5 497.5 595.8 499.6L595.8 499.6Q594.2 501.7 591.2 507.5L591.2 507.5Q588.3 513.3 585 520L585 520Q581.7 526.7 580 529.2L580 529.2Q578.3 531.7 576.7 535.8L576.7 535.8Q575 540 574 544.2L574 544.2Q573 548.3 573.2 551.7L573.2 551.7Q573.3 555 575 559.2L575 559.2Q576.7 563.3 577.9 565.8L578.1 566.2Q579.2 568.3 577.9 569.6L577.9 569.6Q576.7 570.8 572.5 573.3L572.5 573.3Q568.3 575.8 564.6 578.8L564.6 578.8Q560.8 581.7 559.6 582.5L559.6 582.5Q558.3 583.3 557.1 582.1L557.1 582.1Q555.8 580.8 553.8 580.4L553.8 580.4Q551.7 580 550.4 581.7L550.4 581.7Q549.2 583.3 547.9 586.7L547.9 586.7Q546.7 590 544.2 595.8L544.2 595.8Q541.7 601.7 539.6 606.7L539.6 606.7Q537.5 611.7 535.4 615L535.4 615Q533.3 618.3 530 620.8L530 620.8Q526.7 623.3 520.8 626.7L520.8 626.7Q515 630 509.2 632.9L509.2 632.9Q503.3 635.8 499.2 638.3L499.2 638.3Q495 640.8 491.7 643.8L491.7 643.8Q488.3 646.7 486.7 649.2L486.7 649.2Q485 651.7 480 656.7L480 656.7Q475 661.7 470.8 666.7L470.8 666.7Q466.7 671.7 464.3 674.6L464.3 674.6Q462 677.5 461.8 679.2L461.8 679.2Q461.7 680.8 463.8 682.9L463.8 682.9Q465.8 685 469.6 688.3L469.6 688.3Q473.3 691.7 477.5 695.8L477.5 695.8Q481.7 700 485 705L485 705Q488.3 710 491.7 716.7L491.7 716.7Q495 723.3 498.3 729.6L498.3 729.6Q501.7 735.8 504.2 740L504.2 740Q506.7 744.2 509.2 746.7L509.2 746.7Q511.7 749.2 515.8 751.2L515.8 751.2Q520 753.3 522.9 755L522.9 755Q525.8 756.7 526.4 758.8L526.4 758.8Q527 760.8 525.6 763.8L525.6 763.8Q524.2 766.7 521.7 771.7L521.7 771.7Q519.2 776.7 517.1 781.7L517.1 781.7Q515 786.7 513.8 790.8L513.7 791.1Q512.5 795 510.8 795.4L510.8 795.4Q509.2 795.8 507.5 796.7L507.5 796.7Q505.8 797.5 505.8 800.4L505.8 800.4Q505.8 803.3 506.4 808.3L506.4 808.3Q507 813.3 506.8 817.1L506.8 818.4Q506.7 820.8 505 821.2L505 821.2Q503.3 821.7 500.8 820.4L500.8 820.4Q498.3 819.2 496.2 818.8L496.2 818.8Q494.2 818.3 493.6 820.4L493.6 820.4Q493 822.5 494 825.8L494 825.8Q495 829.2 497.5 833.8L497.5 833.8Q500 838.3 502.5 844.2L502.5 844.2Q505 850 507.5 855.8L507.5 855.8Q510 861.7 512.5 867.1L512.5 867.1Q515 872.5 517.5 875.4L517.5 875.4Q520 878.3 522.9 879.6L522.9 879.6Q525.8 880.8 526.2 882.9L526.2 882.9Q526.7 885 525 891.5L525 891.5Q523.3 898 521.7 900.7L521.7 900.7Q520 903.3 517.5 910L517.5 910Q515 916.7 513.3 923.3L513.3 923.3Q511.7 930 510.9 938L510.8 938.7Q510 946.7 510 954.7L510 955.3Q510 963.3 510.7 967.9L510.7 967.9Q511.3 972.5 513.2 973.8L513.2 973.8Q515 975 520 975.2L520 975.2Q525 975.3 530.8 976.2L530.8 976.2Q536.7 977 541.7 978.3L541.7 978.3Q546.7 979.7 552.5 981.9L552.5 981.9Q558.3 984.2 565 986.7L565 986.7Q571.7 989.2 577.5 991.1L577.5 991.1Q583.3 993 587.5 993.6L587.5 993.6Q591.7 994.2 595.8 994L595.8 994Q600 993.8 605.8 993.6L605.8 993.6Q611.7 993.3 614.2 993.8L614.2 993.8Q616.7 994.2 617.7 996.2L617.7 996.2Q618.7 998.3 618.9 999.2L619.2 1000" fill="none" stroke="#0000ff" stroke-width="3.6" stroke-linejoin="round" stroke-linecap="round"/>
<path d="M971.7 333.3L973.8 335Q975.8 336.7 980.4 338.8L980.4 338.8Q985 340.8 990 342.2L990 342.2Q995 343.7 997.5 344.5L997.5 344.5Q1000 345.3 1000.2 347.2L1000.2 347.2Q1000.5 349.2 998.2 351.2L998.2 351.2Q995.8 353.3 994.6 354.6L994.6 354.6Q993.3 355.8 995.4 356.7L995.4 356.7Q997.5 357.5 1005.5 357.9L1010.3 358.2Q1018.3 358.7 1026.3 359.1L1027 359.2Q1035 359.7 1042.9 359.8L1047.2 359.9Q1050.8 360 1051.7 361.7L1051.7 361.7Q1052.5 363.3 1051.9 364.6L1051.9 364.6Q1051.3 365.8 1053.3 367.2L1055.7 368.8Q1060 371.7 1065 375.4L1065 375.4Q1070 379.2 1074.2 382.1L1074.2 382.1Q1078.3 385 1080 385.2L1080 385.2Q1081.7 385.3 1085.8 382.7L1085.8 382.7Q1090 380 1094.2 376.7L1094.2 376.7Q1098.3 373.3 1104.2 370.8L1104.2 370.8Q1110 368.3 1117.7 366L1119 365.6Q1126.7 363.3 1130.8 361.8L1130.8 361.8Q1135 360.3 1141.7 357.7L1141.7 357.7Q1148.3 355 1154.2 351.7L1154.2 351.7Q1160 348.3 1165 345L1165 345Q1170 341.7 1172.5 340.8L1172.5 340.8Q1175 340 1177.5 340.8L1177.5 340.8Q1180 341.7 1185 345.8L1185 345.8Q1190 350 1195 355L1195 355Q1200 360 1204.2 365.8L1204.2 365.8Q1208.3 371.7 1211.7 377.5L1211.7 377.5Q1215 383.3 1217.5 389.2L1217.5 389.2Q1220 395 1222.5 401.7L1222.5 401.7Q1225 408.3 1227.5 413.3L1227.5 413.3Q1230 418.3 1235 422.1L1235 422.1Q1240 425.8 1246.5 430L1246.5 430Q1253 434.2 1255.7 435.4L1255.7 435.4Q1258.3 436.7 1264.2 440L1266.6 441.4Q1270 443.3 1270 444.6L1270 444.6Q1270 445.8 1267.9 447.8L1267.6 448Q1265.8 449.7 1267.1 451.7L1267.9 453.2Q1270 456.7 1272.5 461.7L1272.5 461.7Q1275 466.7 1277.1 470L1277.2 470.1Q1279.2 473.3 1282.1 473.2L1282.1 473.2Q1285 473 1289.2 472.2L1289.2 472.2Q1293.3 471.3 1297.5 471.9L1297.5 471.9Q1301.7 472.5 1305.8 474.2L1305.8 474.2Q1310 475.8 1315 479.2L1315 479.2Q1320 482.5 1325 486.2L1325 486.2Q1330 490 1335 493.8L1335 493.8Q1340 497.5 1344.2 500.4L1344.2 500.4Q1348.3 503.3 1350.8 506.2L1350.8 506.2Q1353.3 509.2 1358.3 513.8L1358.3 513.8Q1363.3 518.3 1367.9 522.5L1367.9 522.5Q1372.5 526.7 1373.1 529.2L1373.1 529.3Q1373.7 531.7 1371.3 531.9L1366.6 532.3Q1364.2 532.5 1365.2 534.6L1365.8 535.8Q1367.5 539.2 1371.2 545.4L1371.2 545.4Q1375 551.7 1378.9 558.7L1379.4 559.7Q1383.3 566.7 1386.7 572.5L1386.7 572.5Q1390 578.3 1392.5 581.7L1392.5 581.7Q1395 585 1395.8 586.5L1395.8 586.5Q1396.7 588 1396.2 588.6L1396.2 588.6Q1395.8 589.2 1393.3 589.6L1393.2 589.6Q1390.8 590 1390.4 592.4L1390.4 592.5Q1390 595 1389 597.9L1388.8 598.6Q1388 600.8 1390.4 601.2L1392.3 601.4Q1396.7 602 1400 603.5L1400 603.5Q1403.3 605 1408.3 608.3L1408.3 608.3Q1413.3 611.7 1419.2 616.2L1419.2 616.2Q1425 620.8 1430 624.6L1430 624.6Q1435 628.3 1439.2 631.2L1439.2 631.2Q1443.3 634.2 1448.3 636.7L1448.3 636.7Q1453.3 639.2 1458.3 640.8L1458.3 640.8Q1463.3 642.5 1469.2 643.9L1469.2 643.9Q1475 645.3 1477.1 646.4L1477.1 646.4Q1479.2 647.5 1480 650.4L1480 650.4Q1480.8 653.3 1480 660L1480 660Q1479.2 666.7 1477.5 673.3L1477.5 673.3Q1475.8 680 1473.3 686.7L1473.3 686.7Q1470.8 693.3 1467.9 699.2L1467.9 699.2Q1465 705 1461.7 710.8L1461.7 710.8Q1458.3 716.7 1457.7 718.3L1457.7 718.3Q1457.1 720 1452.2 726.3L1447.3 732.5Q1442.3 738.8 1441.8 740.8L1441.8 740.8Q1441.2 742.8 1440.1 744.7L1440.1 744.7Q1438.9 746.7 1438.6 751.7L1438.5 754.3Q1438.4 756.7 1436 756.4L1432.1 755.8" fill="none" stroke="#0000ff" stroke-width="3.6" stroke-linejoin="round" stroke-linecap="round"/>
<path d="M985 331.7L989.2 331.5Q993.3 331.3 997.5 329L997.5 329Q1001.7 326.7 1005.8 323.8L1005.8 323.8Q1010 320.8 1014.2 318.6L1014.2 318.6Q1018.3 316.3 1024.2 314.8L1024.2 314.8Q1030 313.3 1036.7 312.1L1036.7 312.1Q1043.3 310.8 1051.1 309L1052.2 308.8Q1060 307 1066.7 304.3L1066.7 304.3Q1073.3 301.7 1078.3 299.2L1078.3 299.2Q1083.3 296.7 1086.7 295.7L1086.7 295.7Q1090 294.7 1092.1 295.7L1092.1 295.7Q1094.2 296.7 1097.9 301.7L1097.9 301.7Q1101.7 306.7 1105.8 312.5L1105.8 312.5Q1110 318.3 1113.3 323.3L1113.3 323.3Q1116.7 328.3 1119.2 334.2L1119.2 334.2Q1121.7 340 1124.2 344.2L1124.2 344.2Q1126.7 348.3 1130.8 353.8L1130.8 353.8Q1135 359.2 1138.3 365.4L1138.3 365.4Q1141.7 371.7 1143.8 375.4L1143.8 375.4Q1145.8 379.2 1147.5 380.2L1147.5 380.2Q1149.2 381.3 1151.2 381.1L1151.2 381.1Q1153.3 380.8 1158.3 378.3L1158.3 378.3Q1163.3 375.8 1168.3 373.9L1168.3 373.9Q1173.3 372 1178.3 371.7L1178.3 371.7Q1183.3 371.3 1191.3 371.8L1193.7 372Q1201.7 372.5 1209.2 372.5L1209.2 372.5Q1216.7 372.5 1223.3 371.7L1223.3 371.7Q1230 370.8 1235 369.6L1235 369.6Q1240 368.3 1243.3 367.7L1243.3 367.7Q1246.7 367 1248.8 367.5L1248.8 367.5Q1250.8 368 1251.9 369.4L1251.9 369.4Q1253 370.8 1254.8 373.8L1254.8 373.8Q1256.7 376.7 1259.6 384.1L1259.6 384.2Q1262.5 391.7 1265 398.3L1265 398.3Q1267.5 405 1269.2 411.7L1269.2 411.7Q1270.8 418.3 1271.1 425L1271.1 425Q1271.3 431.7 1272.3 435.8L1272.3 435.8Q1273.3 440 1275.8 443.8L1275.8 443.8Q1278.3 447.5 1281.7 450.4L1281.7 450.4Q1285 453.3 1289.2 455.4L1291.2 456.4Q1293.3 457.5 1292.9 459.2L1292.9 459.2Q1292.5 460.8 1290.4 461.7L1290.4 461.7Q1288.3 462.5 1289.3 464.7L1289.6 465.4Q1290.8 468.3 1292.9 472.5L1292.9 472.5Q1295 476.7 1297.1 482.1L1297.1 482.1Q1299.2 487.5 1300.4 489.4L1300.4 489.4Q1301.7 491.3 1304.2 491.5L1304.2 491.5Q1306.7 491.7 1311.7 491L1311.7 491Q1316.7 490.3 1320.8 490.8L1320.8 490.8Q1325 491.3 1329.2 493.2L1329.2 493.2Q1333.3 495 1338.3 498.3L1338.3 498.3Q1343.3 501.7 1347.9 503.8L1350.3 504.8Q1352.5 505.8 1352.1 507.1L1352.1 507.1Q1351.7 508.3 1349.2 508.4L1345 508.5Q1340.8 508.7 1340 510.2L1340 510.2Q1339.2 511.7 1341.2 514.9L1341.2 515Q1343.3 518.3 1346.7 522.9L1346.7 522.9Q1350 527.5 1352.1 529.6L1352.1 529.6Q1354.2 531.7 1353.8 534L1353.8 534Q1353.3 536.3 1351.8 536.7L1351.8 536.7Q1350.3 537 1351 539.3L1351.4 541Q1352.5 545 1354.2 550L1354.2 550Q1355.8 555 1356.7 559.2L1356.7 559.2Q1357.5 563.3 1357.5 568.3L1357.5 568.3Q1357.5 573.3 1358.3 574.6L1358.3 574.6Q1359.2 575.8 1361.2 576.4L1361.2 576.4Q1363.3 577 1371.3 577.2L1372 577.3Q1380 577.5 1384.2 578.8L1384.2 578.8Q1388.3 580 1392.5 582.1L1392.5 582.1Q1396.7 584.2 1400.8 586.1L1400.8 586.1Q1405 588 1409.2 591.5L1409.2 591.5Q1413.3 595 1416.7 597.1L1416.7 597.1Q1420 599.2 1426.7 601.7L1426.7 601.7Q1433.3 604.2 1440 605L1440 605Q1446.7 605.8 1450.8 606.7L1450.8 606.7Q1455 607.5 1457.1 609.2L1457.1 609.2Q1459.2 610.8 1459.8 616.2L1459.8 616.2Q1460.3 621.7 1459.3 628.3L1459.3 628.3Q1458.3 635 1457.1 641.7L1457.1 641.7Q1455.8 648.3 1453.3 655L1453.3 655Q1450.8 661.7 1447.9 667.5L1447.9 667.5Q1445 673.3 1441.7 678.3L1441.7 678.3Q1438.3 683.3 1436.2 687.5L1436.2 687.5Q1434.2 691.7 1433.8 695L1433.8 695Q1433.3 698.3 1434.2 704.2L1434.2 704.2Q1435 710 1435.3 715L1435.3 715Q1435.5 720 1437.8 727.7L1438.9 731.1Q1441.2 738.8 1442.2 740.8L1442.2 740.8Q1443.2 742.8 1443.3 744.6L1443.3 744.6Q1443.5 746.5 1441.1 746.4L1436.7 746.3Q1433.2 746.3 1431.6 749.3L1426.4 759.4Q1424.1 763.8 1424.7 764.9L1424.7 764.9Q1425.3 766.1 1427.5 766.9L1427.5 766.9Q1429.8 767.8 1432.7 769.5L1432.7 769.5Q1435.5 771.2 1437.8 773.5L1437.8 773.5Q1440.1 775.7 1441.5 778.6L1441.5 778.6Q1442.9 781.4 1443.8 784.8L1443.8 784.8Q1444.6 788.3 1445.3 792.5L1445.3 792.5Q1446 796.8 1445.9 797.5L1445.9 797.5Q1445.7 798.3 1446.3 804.5L1446.3 804.5Q1446.9 810.8 1447.1 817L1447.1 817Q1447.3 823.2 1447.5 827.4L1447.5 827.4Q1447.8 831.5 1447.1 833.2L1447.1 833.2Q1446.5 834.9 1444.9 834.6L1444.9 834.6Q1443.2 834.4 1440.7 832.2L1440.1 831.6Q1438.2 829.9 1437.4 830.3L1437.4 830.3Q1436.5 830.7 1435.7 835.3L1435.7 835.3Q1434.9 839.8 1433.6 846.1L1433.6 846.1Q1432.4 852.3 1431.1 858.5L1431.1 858.5Q1429.9 864.8 1428.9 870.1L1428.9 870.1Q1427.8 875.5 1426.8 876.8L1426.8 876.8Q1425.7 878 1423.3 877.4L1423.3 877.4Q1420.8 876.8 1417.9 879.5L1417.9 879.5Q1415 882.2 1411.6 885.1L1411.6 885.1Q1408.3 888 1405.8 890.5L1405.8 890.5Q1403.3 893 1402.7 894.7L1402.7 894.7Q1402.1 896.3 1403.1 898L1403.1 898Q1404.2 899.6 1406.6 902.1L1406.6 902.1Q1409.1 904.6 1410.8 906.7L1410.8 906.7Q1412.5 908.8 1413.5 911.3L1413.5 911.3Q1414.5 913.8 1415.4 916.3L1415.4 916.3Q1416.2 918.9 1416.7 919.8L1416.7 919.8Q1417.2 920.8 1418.2 924.9L1418.2 924.9Q1419.3 929.1 1420.1 934.1L1420.1 934.1Q1420.9 939 1421.8 943.6L1421.8 943.6Q1422.6 948.2 1424.1 953.2L1424.1 953.2Q1425.5 958.1 1427.6 963.1L1427.6 963.1Q1429.7 968.1 1432.2 972.3L1432.2 972.3Q1434.7 976.4 1437.1 979.7L1437.1 979.7Q1439.6 983.1 1440.3 984.9L1440.3 984.9Q1440.9 986.8 1439.8 989.1L1439.8 989.1Q1438.8 991.4 1435.9 994.3L1435.9 994.3Q1433 997.2 1428.8 1000.5L1428.8 1000.5Q1424.7 1003.8 1420.5 1006.7L1420.5 1006.7Q1416.4 1009.6 1411.4 1012.5L1411.4 1012.5Q1406.4 1015.4 1401.4 1017.5L1401.4 1017.5Q1396.4 1019.6 1391.5 1021.3L1391.5 1021.3Q1386.5 1022.9 1381.5 1024.2L1381.5 1024.2Q1376.5 1025.4 1371.5 1026.2L1371.5 1026.2Q1366.5 1027.1 1362 1027.5L1362 1027.5Q1357.4 1027.9 1355.3 1028.1L1355.3 1028.1Q1353.3 1028.3 1350 1029.6L1350 1029.6Q1346.7 1030.8 1343.3 1033.8L1343.3 1033.8Q1340 1036.7 1337.1 1040L1335.7 1041.5Q1334.2 1043.3 1332.5 1041.7L1332.5 1041.7Q1330.8 1040 1330 1039.2L1330 1039.2Q1329.2 1038.3 1327.1 1039.5L1325.4 1040.4Q1321.7 1042.5 1314.2 1045.2L1314.2 1045.2Q1306.7 1048 1304.2 1049L1304.2 1049Q1301.7 1050 1300.8 1052.1L1300.8 1052.1Q1300 1054.2 1301.2 1057.9L1301.2 1057.9Q1302.5 1061.7 1303.4 1065.8L1303.4 1065.8Q1304.2 1070 1304 1072.5L1304 1072.5Q1303.8 1075 1302.7 1078.3L1302.7 1078.3Q1301.7 1081.6 1299.8 1085L1299.8 1085Q1298 1088.3 1295.1 1091.6L1295.1 1091.6Q1292.2 1094.9 1288.8 1098.2L1288.8 1098.2Q1285.5 1101.6 1281.8 1105.7L1281.8 1105.7Q1278 1109.9 1274.7 1113.6L1274.7 1113.6Q1271.4 1117.3 1269.7 1119.4L1269.7 1119.4Q1268.1 1121.5 1266.8 1121.7L1266.8 1121.7Q1265.6 1121.9 1264.5 1120.5L1264.5 1120.5Q1263.5 1119 1262.9 1116.9L1262.9 1116.9Q1262.3 1114.9 1260.3 1116.2L1259.4 1116.9Q1256.4 1119 1252.3 1122.7L1252.3 1122.7Q1248.1 1126.5 1244 1129.8L1244 1129.8Q1239.8 1133.1 1235.7 1136.4L1235.7 1136.4Q1231.5 1139.8 1227.4 1143.1L1227.4 1143.1Q1223.2 1146.4 1219.1 1149.7L1219.1 1149.7Q1214.9 1153.1 1210.8 1156L1210.8 1156Q1206.6 1158.9 1202.5 1161.8L1202.5 1161.8Q1198.3 1164.7 1194.2 1167.2L1194.2 1167.2Q1190 1169.7 1185.8 1172.3L1185.8 1172.3Q1181.7 1175 1179.2 1176.7L1179.2 1176.7Q1176.7 1178.3 1175 1177.5L1175 1177.5Q1173.3 1176.7 1173.3 1173.3L1173.3 1173.3Q1173.3 1170 1172.5 1169L1172.5 1169Q1171.7 1168 1168.4 1168.8L1167.5 1169Q1163.3 1170 1157.5 1172.5L1157.5 1172.5Q1151.7 1175 1149.6 1174.6L1149.6 1174.6Q1147.5 1174.2 1146.7 1173.1L1146.7 1173.1Q1145.8 1172 1140.6 1172L1140.4 1172Q1135 1172 1127 1171.4L1126.3 1171.4Q1118.3 1170.8 1111.7 1169.8L1111.7 1169.8Q1105 1168.7 1103.3 1168.7L1103.3 1168.7Q1101.7 1168.7 1100 1171L1100 1171Q1098.3 1173.3 1096 1181L1095.6 1182.3Q1093.3 1190 1092.4 1194.3L1092.4 1194.3Q1091.5 1198.5 1089.5 1204.2L1089.5 1204.2Q1087.5 1209.9 1085.5 1214.2L1085.5 1214.2Q1083.5 1218.4 1081.8 1221.9L1081.8 1221.9Q1080.1 1225.3 1079.2 1227.5L1079.2 1227.5Q1078.4 1229.8 1078.7 1231L1078.7 1231Q1078.9 1232.1 1080.4 1232.4L1080.4 1232.4Q1081.8 1232.7 1083.8 1232.7L1083.8 1232.7Q1085.8 1232.7 1086.3 1233.5L1086.3 1233.5Q1086.9 1234.4 1086.9 1236.4L1086.9 1236.4Q1086.9 1238.4 1085.8 1239.8L1085.8 1239.8Q1084.6 1241.2 1084.1 1242L1084.1 1242Q1083.5 1242.9 1081.2 1243.8L1081.2 1243.8Q1078.9 1244.6 1081.2 1244.6L1081.2 1244.6Q1083.5 1244.6 1085.5 1245.2L1085.5 1245.2Q1087.5 1245.7 1087.2 1246.9L1087.2 1246.9Q1086.9 1248 1085.2 1249.4L1085.2 1249.4Q1083.5 1250.9 1081.2 1252L1078.9 1253.1" fill="none" stroke="#0000ff" stroke-width="3.6" stroke-linejoin="round" stroke-linecap="round"/>
<path d="M1425.3 766.1L1422.2 771.9Q1419.6 776.9 1420.1 778.3L1420.1 778.3Q1420.7 779.7 1423 781L1423 781Q1425.3 782.3 1428.1 783.1L1428.1 783.1Q1431 784 1433.2 786.1L1433.2 786.1Q1435.5 788.3 1437.8 791.1L1437.8 791.1Q1440.1 793.9 1442 797.4L1442 797.4Q1444 800.8 1445.7 803.6L1445.7 803.6Q1447.5 806.5 1448.6 807.8L1448.6 807.8Q1449.8 809.1 1454 814.9L1454 814.9Q1458.1 820.7 1462.3 825.7L1462.3 825.7Q1466.4 830.7 1470.6 834.9L1470.6 834.9Q1474.8 839 1478.9 842.3L1478.9 842.3Q1483.1 845.6 1484.7 847.3L1484.7 847.3Q1486.4 849 1487 851L1487 851Q1487.6 853.1 1486.6 855.6L1486.6 855.6Q1485.5 858.1 1482.6 863.1L1482.6 863.1Q1479.7 868.1 1476.4 873.1L1476.4 873.1Q1473.1 878 1469.4 882.2L1469.4 882.2Q1465.6 886.3 1461.9 889.3L1461.9 889.3Q1458.1 892.2 1454 894.7L1454 894.7Q1449.8 897.1 1445.7 899.6L1445.7 899.6Q1441.5 902.1 1437.4 904.6L1437.4 904.6Q1433.2 907.1 1429.1 909.6L1429.1 909.6Q1424.9 912.1 1421.6 914.6L1421.6 914.6Q1418.3 917.1 1418.2 918.1L1418.2 918.1Q1418 919.1 1415.5 921.6L1415.5 921.6Q1413.1 924.1 1411 927L1411 927Q1408.9 929.9 1407.2 932.4L1407.2 932.4Q1405.6 934.9 1404.3 935.5L1404.3 935.5Q1403.1 936.1 1401.8 935.1L1401.8 935.1Q1400.6 934.1 1399.6 930.3L1399.6 930.3Q1398.5 926.6 1397.9 925.7L1397.9 925.7Q1397.3 924.9 1396 924.9L1396 924.9Q1394.8 924.9 1393.1 927.8L1393.1 927.8Q1391.5 930.7 1389.4 935.3L1389.4 935.3Q1387.3 939.9 1385.2 945.3L1385.2 945.3Q1383.2 950.7 1381.9 952.5L1381.9 952.5Q1380.7 954.4 1377.8 954L1377.8 954Q1374.9 953.6 1371.9 955.9L1371.9 955.9Q1369 958.1 1365.3 961L1365.3 961Q1361.6 964 1357.4 966.9L1357.4 966.9Q1353.3 969.8 1349.1 972.1L1349.1 972.1Q1345 974.3 1342.5 975.8L1342.5 975.8Q1340 977.2 1338.9 978.9L1338.9 978.9Q1337.9 980.6 1338.3 982.6L1338.3 982.6Q1338.7 984.7 1340.6 988.5L1340.6 988.5Q1342.5 992.2 1345 996.3L1345 996.3Q1347.4 1000.5 1348.7 1004.2L1348.7 1004.2Q1349.9 1008 1350.6 1012.1L1350.6 1012.1Q1351.2 1016.3 1351.3 1020.4L1351.3 1020.4Q1351.4 1024.6 1351.5 1026.7L1351.5 1026.7Q1351.6 1028.9 1351.8 1031.1L1351.8 1031.1Q1352 1033.3 1352.7 1040.7L1352.7 1040.7Q1353.3 1048 1353.7 1050.6L1353.7 1050.6Q1354 1053.2 1355.7 1058.2L1355.7 1058.2Q1357.3 1063.2 1358.6 1066.5L1358.6 1066.5Q1359.8 1069.8 1360.2 1072.3L1360.2 1072.3Q1360.7 1074.8 1359.8 1076.4L1359.8 1076.4Q1359 1078.1 1355.3 1079.8L1355.3 1079.8Q1351.5 1081.4 1347.4 1083.1L1347.4 1083.1Q1343.2 1084.8 1339.1 1086.4L1339.1 1086.4Q1334.9 1088.1 1330.8 1089.5L1330.8 1089.5Q1326.6 1091 1322.5 1092.4L1322.5 1092.4Q1318.3 1093.9 1314.2 1095.1L1314.2 1095.1Q1310 1096.4 1308.1 1096.5L1308.1 1096.5Q1306.3 1096.6 1302.1 1096.7L1302.1 1096.7Q1298 1096.7 1293.8 1096.9L1293.8 1096.9Q1289.7 1097 1285.5 1097.4L1285.5 1097.4Q1281.4 1097.8 1277.2 1098.2L1277.2 1098.2Q1273.1 1098.7 1269.3 1099.1L1269.3 1099.1Q1265.6 1099.5 1264.5 1100.5L1264.5 1100.5Q1263.5 1101.6 1263.9 1103.2L1263.9 1103.2Q1264.3 1104.9 1264.1 1107.4L1264.1 1107.4Q1263.9 1109.9 1263.3 1112.4L1263.3 1112.5Q1262.7 1114.9 1260.8 1115.1L1260.8 1115.1Q1258.9 1115.3 1256 1116.1L1256 1116.1Q1253.1 1116.9 1249.8 1117.5L1249.8 1117.5Q1246.5 1118.2 1242.3 1118.6L1242.3 1118.6Q1238.2 1119 1234 1119.6L1234 1119.6Q1229.9 1120.2 1228.4 1121.3L1228.4 1121.3Q1227 1122.3 1226.5 1124.4L1226.5 1124.4Q1226.1 1126.5 1226.5 1129L1226.5 1129Q1227 1131.5 1226.3 1134.4L1226.3 1134.4Q1225.7 1137.3 1224.5 1139.8L1224.5 1139.8Q1223.2 1142.3 1221.1 1144.8L1221.1 1144.8Q1219.1 1147.2 1217.4 1148.9L1217.4 1148.9Q1215.7 1150.6 1215.3 1150.1L1215.3 1150.1Q1214.9 1149.7 1214.7 1147.2L1214.7 1147.2Q1214.5 1144.8 1213.9 1143.9L1213.9 1143.9Q1213.3 1143.1 1211.2 1143.1L1211.2 1143.1Q1209.1 1143.1 1205.8 1144.3L1205.8 1144.3Q1202.5 1145.6 1198.7 1147.2L1198.7 1147.2Q1195 1148.9 1192.5 1149.9L1192.5 1149.9Q1190 1151 1188.3 1150.5L1188.3 1150.5Q1186.7 1150 1186.2 1149.2L1186.2 1149.2Q1185.8 1148.3 1183.2 1148.6L1181.2 1148.8Q1176.7 1149.2 1168.7 1149.8L1168 1149.9Q1160 1150.5 1152 1150.7L1149.9 1150.7Q1143.3 1150.8 1142.1 1152.1L1142.1 1152.1Q1140.8 1153.3 1139.6 1156.7L1139.6 1156.7Q1138.3 1160 1137.5 1164.2L1137.5 1164.2Q1136.7 1168.3 1135.8 1171.7L1135.8 1171.7Q1135 1175 1132.5 1179.2L1132.5 1179.2Q1130 1183.3 1125 1189.2L1125 1189.2Q1120 1195 1115 1200.8L1115 1200.8Q1110 1206.7 1106.7 1211.7L1106.7 1211.7Q1103.3 1216.7 1102.5 1217L1102.5 1217Q1101.7 1217.3 1100.3 1220.7L1100.3 1220.7Q1098.9 1224.1 1098 1227L1098 1227Q1097.2 1229.8 1096.6 1232.7L1096.6 1232.7Q1096 1235.5 1095.4 1237.2L1095.4 1237.2Q1094.9 1238.9 1093.7 1239.6L1093.7 1239.6Q1092.6 1240.3 1090 1240.5L1090 1240.5Q1087.5 1240.6 1083.8 1240.8L1083.8 1240.8Q1080.1 1240.9 1076.7 1240.2L1076.7 1240.2Q1073.3 1239.5 1067.6 1238.4L1067.6 1238.4Q1061.9 1237.2 1056.2 1235.8L1056.2 1235.8Q1050.5 1234.4 1044.8 1232.1L1044.8 1232.1Q1039.1 1229.8 1034.9 1227.8L1034.9 1227.8Q1030.6 1225.8 1026.3 1222.7L1026.3 1222.7Q1022.1 1219.6 1017.8 1216.2L1017.8 1216.2Q1013.5 1212.8 1009.3 1209.9L1009.3 1209.9Q1005 1207.1 1004.2 1207.3L1004.2 1207.3Q1003.3 1207.5 1000 1206.2L1000 1206.2Q996.7 1205 990.8 1204.8L990.8 1204.8Q985 1204.7 978.3 1205L978.3 1205Q971.7 1205.3 964.2 1206L963.1 1206.1Q956.7 1206.7 955.7 1205.8L955.7 1205.8Q954.7 1205 954.4 1202.1L954.4 1202.1Q954.2 1199.2 950.4 1197.2L950.4 1197.2Q946.7 1195.3 942.5 1193.1L942.5 1193.1Q938.3 1190.8 935.8 1189.8L935.8 1189.8Q933.3 1188.7 931.7 1189.2L931.7 1189.2Q930 1189.7 927.9 1192.8L927.9 1192.8Q925.8 1195.8 923.3 1198.3L923.3 1198.3Q920.8 1200.8 917.1 1202.1L917.1 1202.1Q913.3 1203.3 907.5 1204.3L907.5 1204.3Q901.7 1205.3 895 1205.6L895 1205.6Q888.3 1205.8 880.3 1205.6L879.7 1205.6Q871.7 1205.3 864.2 1204.8L864.2 1204.8Q856.7 1204.2 854.8 1203.3L854.8 1203.3Q853 1202.5 853.2 1200.4L853.2 1200.4Q853.3 1198.3 855.8 1196.7L856.3 1196.3Q858.3 1195 856.7 1193.8L856.7 1193.8Q855 1192.5 849.2 1190.4L849.2 1190.4Q843.3 1188.3 836.7 1186.2L836.7 1186.2Q830 1184.2 823.3 1182.5L823.3 1182.5Q816.7 1180.8 810.8 1179.6L810.8 1179.6Q805 1178.3 804.2 1177.5L804.2 1177.5Q803.3 1176.7 803.8 1174.6L803.8 1174.6Q804.2 1172.5 802.1 1170.8L802.1 1170.8Q800 1169.2 796.7 1166.7L796.7 1166.7Q793.3 1164.2 790 1160.4L790 1160.4Q786.7 1156.7 784.6 1154.2L784.6 1154.2Q782.5 1151.7 780.8 1151.1L780.8 1151.1Q779.2 1150.5 777.1 1151.1L777.1 1151.1Q775 1151.7 770.8 1154.6L770.8 1154.6Q766.7 1157.5 762.5 1158.9L762.5 1158.9Q758.3 1160.3 750.8 1160.6L750.8 1160.6Q743.3 1160.8 735.3 1161.1L734.7 1161.1Q726.7 1161.3 721.7 1161.7L721.7 1161.7Q716.7 1162 710.8 1163.1L710.8 1163.1Q705 1164.2 699.2 1165.8L699.2 1165.8Q693.3 1167.5 689.2 1169.6L689.2 1169.6Q685 1171.7 682.5 1172.1L682.5 1172.1Q680 1172.5 677.9 1171.2L677.9 1171.2Q675.8 1170 672.9 1165.8L672.9 1165.8Q670 1161.7 666.7 1155.8L666.7 1155.8Q663.3 1150 660 1144.2L660 1144.2Q656.7 1138.3 654.6 1133.3L654.6 1133.3Q652.5 1128.3 651.7 1124.2L651.7 1124.2Q650.8 1120 650 1115L650 1115Q649.2 1110 647.9 1103.3L647.9 1103.3Q646.7 1096.7 646 1092.5L646 1092.5Q645.3 1088.3 643.9 1085.4L643.9 1085.4Q642.5 1082.5 640 1079.6L640 1079.6Q637.5 1076.7 636.2 1075L636.2 1075Q635 1073.3 635.4 1071.2L635.4 1071.2Q635.8 1069.2 638.2 1069L639.6 1068.9Q643.3 1068.7 646.7 1068.5L647.6 1068.5Q650 1068.3 648.7 1066.3L648.3 1065.8Q646.7 1063.3 642.5 1058.3L642.5 1058.3Q638.3 1053.3 634.2 1049.2L634.2 1049.2Q630 1045 627.5 1043.8L627.5 1043.8Q625 1042.5 625 1040.4L625 1040.4Q625 1038.3 626.8 1037.1L626.8 1037.1Q628.7 1035.8 627.9 1033.6L627.7 1032.9Q626.7 1030 624.6 1024.2L624.6 1024.2Q622.5 1018.3 621.1 1012.5L621.1 1012.5Q619.7 1006.7 619.4 1003.3L619.2 1000" fill="none" stroke="#0000ff" stroke-width="3.6" stroke-linejoin="round" stroke-linecap="round"/>
<rect x="719.1" y="240.2" width="40.7" height="41" fill="#0000ff" stroke="#91298f" stroke-width="3.8"/>
<rect x="729.1" y="241.2" width="41" height="41.6" fill="#ff0000" stroke="#52ae14" stroke-width="3.8"/>
<circle cx="972" cy="308.5" r="26.4" fill="#00ff00" stroke="#00baf0" stroke-width="3.7"/>
<rect class="ax" x="212.5" y="28.5" width="1518.4" height="1352.0"/>
<path class="tk" d="M364.3 1380.5V1363.5M364.3 28.5V45.5M566.7 1380.5V1363.5M566.7 28.5V45.5M769.2 1380.5V1363.5M769.2 28.5V45.5M971.6 1380.5V1363.5M971.6 28.5V45.5M1174.0 1380.5V1363.5M1174.0 28.5V45.5M1376.5 1380.5V1363.5M1376.5 28.5V45.5M1578.9 1380.5V1363.5M1578.9 28.5V45.5M212.5 1240.7H229.5M1730.9 1240.7H1713.9M212.5 1054.3H229.5M1730.9 1054.3H1713.9M212.5 867.8H229.5M1730.9 867.8H1713.9M212.5 681.4H229.5M1730.9 681.4H1713.9M212.5 494.9H229.5M1730.9 494.9H1713.9M212.5 308.5H229.5M1730.9 308.5H1713.9M212.5 122.1H229.5M1730.9 122.1H1713.9"/>
<rect x="1008.3" y="28.4" width="722.6" height="242.1" fill="#fff" stroke="#1c1c1c" stroke-width="3.5"/>
<line x1="1031" y1="76" x2="1092" y2="76" stroke="#00ff00" stroke-width="15.5"/>
<line x1="1031" y1="150.4" x2="1092" y2="150.4" stroke="#ff0000" stroke-width="3.7"/>
<line x1="1031" y1="224.6" x2="1092" y2="224.6" stroke="#0000ff" stroke-width="3.7"/>
<text class="lg" transform="translate(1108.5,97.3) scale(1,1.035)">Desired Trajectory</text>
<text class="lg" transform="translate(1108.5,171.3) scale(1,1.035)">OBC Trajectory</text>
<text class="lg" transform="translate(1108.5,245.3) scale(1,1.035)">Backstepping Trajectory</text>
<text transform="translate(361.5,1451.1) scale(1,1.063)" text-anchor="middle">−0.6</text>
<text transform="translate(563.9,1451.1) scale(1,1.063)" text-anchor="middle">−0.4</text>
<text transform="translate(766.4,1451.1) scale(1,1.063)" text-anchor="middle">−0.2</text>
<text transform="translate(971.1,1451.1) scale(1,1.063)" text-anchor="middle">0</text>
<text transform="translate(1173.5,1451.1) scale(1,1.063)" text-anchor="middle">0.2</text>
<text transform="translate(1376.0,1451.1) scale(1,1.063)" text-anchor="middle">0.4</text>
<text transform="translate(1578.4,1451.1) scale(1,1.063)" text-anchor="middle">0.6</text>
<text transform="translate(197.5,1262.3) scale(1,1.063)" text-anchor="end">−1</text>
<text transform="translate(197.5,1075.9) scale(1,1.063)" text-anchor="end">−0.8</text>
<text transform="translate(197.5,889.4) scale(1,1.063)" text-anchor="end">−0.6</text>
<text transform="translate(197.5,703.0) scale(1,1.063)" text-anchor="end">−0.4</text>
<text transform="translate(197.5,516.5) scale(1,1.063)" text-anchor="end">−0.2</text>
<text transform="translate(200.0,330.1) scale(1,1.063)" text-anchor="end">0</text>
<text transform="translate(200.0,143.7) scale(1,1.063)" text-anchor="end">0.2</text>
<text transform="translate(971.5,1522) scale(1,1.035)" text-anchor="middle">X(m)</text>
<text transform="translate(62.5,706.5) rotate(-90) scale(1,1.035)" text-anchor="middle">Y(m)</text>
</svg>
</body>
</html>
